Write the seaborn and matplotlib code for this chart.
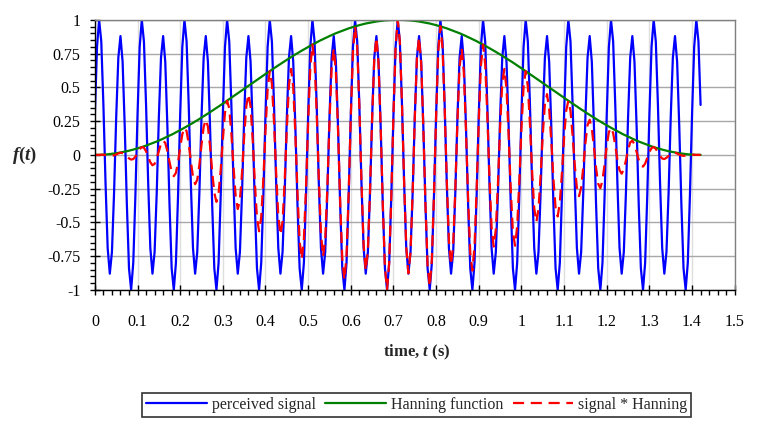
import numpy as np
import pandas as pd
import seaborn as sns
import matplotlib.pyplot as plt
from matplotlib.ticker import MultipleLocator, FuncFormatter

# sampled "perceived" signal, one value every 5 ms from t = 0 to 1.42 s
signal = [
    0.30, 0.80, 1.00, 0.84, 0.37, -0.21, -0.69, -0.88, -0.72, -0.28,
    0.28, 0.72, 0.88, 0.69, 0.21, -0.37, -0.84, -1.00, -0.80, -0.30,
    0.30, 0.80, 1.00, 0.84, 0.37, -0.21, -0.69, -0.88, -0.72, -0.28,
    0.28, 0.72, 0.88, 0.69, 0.21, -0.37, -0.84, -1.00, -0.80, -0.30,
    0.30, 0.80, 1.00, 0.84, 0.37, -0.21, -0.69, -0.88, -0.72, -0.28,
    0.28, 0.72, 0.88, 0.69, 0.21, -0.37, -0.84, -1.00, -0.80, -0.30,
    0.30, 0.80, 1.00, 0.84, 0.37, -0.21, -0.69, -0.88, -0.72, -0.28,
    0.28, 0.72, 0.88, 0.69, 0.21, -0.37, -0.84, -1.00, -0.80, -0.30,
    0.30, 0.80, 1.00, 0.84, 0.37, -0.21, -0.69, -0.88, -0.72, -0.28,
    0.28, 0.72, 0.88, 0.69, 0.21, -0.37, -0.84, -1.00, -0.80, -0.30,
    0.30, 0.80, 1.00, 0.84, 0.37, -0.21, -0.69, -0.88, -0.72, -0.28,
    0.28, 0.72, 0.88, 0.69, 0.21, -0.37, -0.84, -1.00, -0.80, -0.30,
    0.30, 0.80, 1.00, 0.84, 0.37, -0.21, -0.69, -0.88, -0.72, -0.28,
    0.28, 0.72, 0.88, 0.69, 0.21, -0.37, -0.84, -1.00, -0.80, -0.30,
    0.30, 0.80, 1.00, 0.84, 0.37, -0.21, -0.69, -0.88, -0.72, -0.28,
    0.28, 0.72, 0.88, 0.69, 0.21, -0.37, -0.84, -1.00, -0.80, -0.30,
    0.30, 0.80, 1.00, 0.84, 0.37, -0.21, -0.69, -0.88, -0.72, -0.28,
    0.28, 0.72, 0.88, 0.69, 0.21, -0.37, -0.84, -1.00, -0.80, -0.30,
    0.30, 0.80, 1.00, 0.84, 0.37, -0.21, -0.69, -0.88, -0.72, -0.28,
    0.28, 0.72, 0.88, 0.69, 0.21, -0.37, -0.84, -1.00, -0.80, -0.30,
    0.30, 0.80, 1.00, 0.84, 0.37, -0.21, -0.69, -0.88, -0.72, -0.28,
    0.28, 0.72, 0.88, 0.69, 0.21, -0.37, -0.84, -1.00, -0.80, -0.30,
    0.30, 0.80, 1.00, 0.84, 0.37, -0.21, -0.69, -0.88, -0.72, -0.28,
    0.28, 0.72, 0.88, 0.69, 0.21, -0.37, -0.84, -1.00, -0.80, -0.30,
    0.30, 0.80, 1.00, 0.84, 0.37, -0.21, -0.69, -0.88, -0.72, -0.28,
    0.28, 0.72, 0.88, 0.69, 0.21, -0.37, -0.84, -1.00, -0.80, -0.30,
    0.30, 0.80, 1.00, 0.84, 0.37, -0.21, -0.69, -0.88, -0.72, -0.28,
    0.28, 0.72, 0.88, 0.69, 0.21, -0.37, -0.84, -1.00, -0.80, -0.30,
    0.30, 0.80, 1.00, 0.84, 0.37,
]

# Hanning window on the same samples
hanning = [
    0.000, 0.000, 0.000, 0.001, 0.002, 0.003, 0.004, 0.006, 0.008, 0.010,
    0.012, 0.015, 0.018, 0.021, 0.024, 0.027, 0.031, 0.035, 0.039, 0.044,
    0.048, 0.053, 0.058, 0.063, 0.069, 0.075, 0.081, 0.087, 0.093, 0.099,
    0.106, 0.113, 0.120, 0.128, 0.135, 0.143, 0.150, 0.158, 0.167, 0.175,
    0.183, 0.192, 0.201, 0.210, 0.219, 0.228, 0.237, 0.247, 0.256, 0.266,
    0.276, 0.286, 0.296, 0.306, 0.316, 0.327, 0.337, 0.348, 0.358, 0.369,
    0.380, 0.390, 0.401, 0.412, 0.423, 0.434, 0.445, 0.456, 0.467, 0.478,
    0.489, 0.500, 0.511, 0.522, 0.533, 0.544, 0.555, 0.566, 0.577, 0.588,
    0.599, 0.610, 0.620, 0.631, 0.642, 0.652, 0.663, 0.673, 0.684, 0.694,
    0.704, 0.714, 0.724, 0.734, 0.744, 0.753, 0.763, 0.772, 0.781, 0.790,
    0.799, 0.808, 0.817, 0.825, 0.833, 0.842, 0.850, 0.857, 0.865, 0.872,
    0.880, 0.887, 0.894, 0.901, 0.907, 0.913, 0.919, 0.925, 0.931, 0.937,
    0.942, 0.947, 0.952, 0.956, 0.961, 0.965, 0.969, 0.973, 0.976, 0.979,
    0.982, 0.985, 0.988, 0.990, 0.992, 0.994, 0.996, 0.997, 0.998, 0.999,
    1.000, 1.000, 1.000, 1.000, 1.000, 0.999, 0.998, 0.997, 0.996, 0.994,
    0.992, 0.990, 0.988, 0.985, 0.982, 0.979, 0.976, 0.973, 0.969, 0.965,
    0.961, 0.956, 0.952, 0.947, 0.942, 0.937, 0.931, 0.925, 0.919, 0.913,
    0.907, 0.901, 0.894, 0.887, 0.880, 0.872, 0.865, 0.857, 0.850, 0.842,
    0.833, 0.825, 0.817, 0.808, 0.799, 0.790, 0.781, 0.772, 0.763, 0.753,
    0.744, 0.734, 0.724, 0.714, 0.704, 0.694, 0.684, 0.673, 0.663, 0.652,
    0.642, 0.631, 0.620, 0.610, 0.599, 0.588, 0.577, 0.566, 0.555, 0.544,
    0.533, 0.522, 0.511, 0.500, 0.489, 0.478, 0.467, 0.456, 0.445, 0.434,
    0.423, 0.412, 0.401, 0.390, 0.380, 0.369, 0.358, 0.348, 0.337, 0.327,
    0.316, 0.306, 0.296, 0.286, 0.276, 0.266, 0.256, 0.247, 0.237, 0.228,
    0.219, 0.210, 0.201, 0.192, 0.183, 0.175, 0.167, 0.158, 0.150, 0.143,
    0.135, 0.128, 0.120, 0.113, 0.106, 0.099, 0.093, 0.087, 0.081, 0.075,
    0.069, 0.063, 0.058, 0.053, 0.048, 0.044, 0.039, 0.035, 0.031, 0.027,
    0.024, 0.021, 0.018, 0.015, 0.012, 0.010, 0.008, 0.006, 0.004, 0.003,
    0.002, 0.001, 0.000, 0.000, 0.000,
]

# signal * Hanning
windowed = [
    0.000, 0.000, 0.000, 0.001, 0.001, -0.001, -0.003, -0.005, -0.006, -0.003,
    0.003, 0.011, 0.016, 0.014, 0.005, -0.010, -0.026, -0.035, -0.031, -0.013,
    0.015, 0.042, 0.058, 0.053, 0.026, -0.015, -0.055, -0.077, -0.067, -0.027,
    0.029, 0.082, 0.106, 0.088, 0.028, -0.053, -0.125, -0.158, -0.133, -0.053,
    0.055, 0.153, 0.201, 0.176, 0.082, -0.047, -0.162, -0.217, -0.185, -0.074,
    0.076, 0.206, 0.260, 0.210, 0.065, -0.122, -0.282, -0.348, -0.286, -0.112,
    0.115, 0.312, 0.401, 0.344, 0.158, -0.089, -0.305, -0.401, -0.337, -0.132,
    0.135, 0.361, 0.450, 0.358, 0.110, -0.203, -0.464, -0.566, -0.461, -0.178,
    0.181, 0.487, 0.620, 0.528, 0.240, -0.134, -0.454, -0.592, -0.494, -0.192,
    0.195, 0.516, 0.637, 0.503, 0.153, -0.282, -0.638, -0.772, -0.624, -0.239,
    0.242, 0.646, 0.817, 0.690, 0.312, -0.173, -0.582, -0.754, -0.625, -0.242,
    0.244, 0.640, 0.787, 0.617, 0.187, -0.341, -0.768, -0.925, -0.744, -0.284,
    0.285, 0.757, 0.952, 0.799, 0.359, -0.199, -0.664, -0.856, -0.705, -0.271,
    0.272, 0.711, 0.869, 0.678, 0.204, -0.372, -0.833, -0.997, -0.797, -0.303,
    0.303, 0.799, 1.000, 0.836, 0.374, -0.206, -0.684, -0.877, -0.719, -0.275,
    0.275, 0.715, 0.869, 0.675, 0.202, -0.366, -0.816, -0.973, -0.774, -0.292,
    0.291, 0.764, 0.952, 0.792, 0.352, -0.193, -0.638, -0.814, -0.664, -0.253,
    0.251, 0.651, 0.787, 0.608, 0.181, -0.326, -0.723, -0.857, -0.679, -0.255,
    0.252, 0.659, 0.817, 0.675, 0.299, -0.163, -0.535, -0.679, -0.551, -0.209,
    0.206, 0.530, 0.637, 0.489, 0.145, -0.260, -0.572, -0.673, -0.530, -0.198,
    0.195, 0.504, 0.620, 0.510, 0.224, -0.121, -0.395, -0.498, -0.401, -0.151,
    0.148, 0.377, 0.450, 0.343, 0.101, -0.179, -0.390, -0.456, -0.356, -0.132,
    0.128, 0.329, 0.401, 0.326, 0.142, -0.076, -0.245, -0.306, -0.243, -0.091,
    0.088, 0.221, 0.260, 0.196, 0.057, -0.099, -0.214, -0.247, -0.189, -0.069,
    0.066, 0.168, 0.201, 0.161, 0.068, -0.036, -0.114, -0.139, -0.108, -0.040,
    0.037, 0.092, 0.106, 0.077, 0.022, -0.037, -0.078, -0.087, -0.065, -0.023,
    0.021, 0.050, 0.058, 0.044, 0.018, -0.009, -0.027, -0.031, -0.022, -0.007,
    0.007, 0.015, 0.016, 0.010, 0.002, -0.004, -0.007, -0.006, -0.003, -0.001,
    0.001, 0.001, 0.000, 0.000, 0.000,
]

sample_step = 0.005
time_s = np.round(np.arange(len(signal)) * sample_step, 3)

series_labels = ["perceived signal", "Hanning function", "signal * Hanning"]
series_colors = ["#0000ff", "#008000", "#ff0000"]

sns.set_style("ticks")
plt.rcParams["font.family"] = ["Liberation Serif", "DejaVu Serif"]
plt.rcParams["mathtext.fontset"] = "custom"
plt.rcParams["mathtext.it"] = "Liberation Serif:bold:italic"
plt.rcParams["mathtext.rm"] = "Liberation Serif:bold"
plt.rcParams["axes.unicode_minus"] = False

df = pd.DataFrame({"t": time_s, "signal": signal, "hanning": hanning, "windowed": windowed})

fig = plt.figure(figsize=(7.59, 4.32), dpi=100)
ax = fig.add_axes([0.125, 0.329, 0.843, 0.625])

for col, lab, colr in zip(["signal", "hanning", "windowed"], series_labels, series_colors):
    sns.lineplot(data=df, x="t", y=col, ax=ax, color=colr, lw=1.6,
                 estimator=None, legend=False, label=lab)
ax.lines[2].set_dashes([5, 3])

ax.set_xlim(0, 1.5)
ax.set_ylim(-1, 1)
ax.xaxis.set_major_locator(MultipleLocator(0.1))
ax.xaxis.set_minor_locator(MultipleLocator(0.02))
ax.yaxis.set_major_locator(MultipleLocator(0.25))
ax.yaxis.set_minor_locator(MultipleLocator(0.05))
fmt = FuncFormatter(lambda v, p: f"{round(v, 2) + 0:g}")
ax.xaxis.set_major_formatter(fmt)
ax.yaxis.set_major_formatter(fmt)

ax.yaxis.grid(True, which="major", color="#a8a8a8", lw=1)
ax.xaxis.grid(True, which="major", color="#dedede", lw=1)
ax.set_axisbelow(True)

for s in ["left", "bottom"]:
    ax.spines[s].set_color("black")
    ax.spines[s].set_linewidth(1)
for s in ["top", "right"]:
    ax.spines[s].set_visible(True)
    ax.spines[s].set_color("#808080")
    ax.spines[s].set_linewidth(1)

ax.tick_params(axis="both", which="major", direction="inout", length=7, width=1,
               color="black", labelsize=11.5, labelcolor="black")
ax.tick_params(axis="both", which="minor", direction="out", length=3.5, width=1, color="black")
ax.tick_params(axis="y", which="major", pad=7)
ax.tick_params(axis="x", which="major", pad=14)

ax.set_xlabel("")
ax.set_ylabel("")
fig.text(0.032, 1 - 155 / 432, "$f$($t$)", fontsize=13.5, fontweight="bold",
         ha="center", va="center")
fig.text(0.549, 1 - 352 / 432, "time, $t$ (s)", fontsize=12, fontweight="bold",
         ha="center", va="center")

handles = ax.lines[:3]
leg = fig.legend(handles, series_labels, loc="center", bbox_to_anchor=(0.549, 0.0625),
                 ncol=3, frameon=True, fancybox=False, edgecolor="black", fontsize=11.5,
                 handlelength=3.8, handletextpad=0.3, columnspacing=0.6, borderpad=0.25)
leg.get_frame().set_linewidth(1.2)

fig.savefig("out.png", dpi=100)
